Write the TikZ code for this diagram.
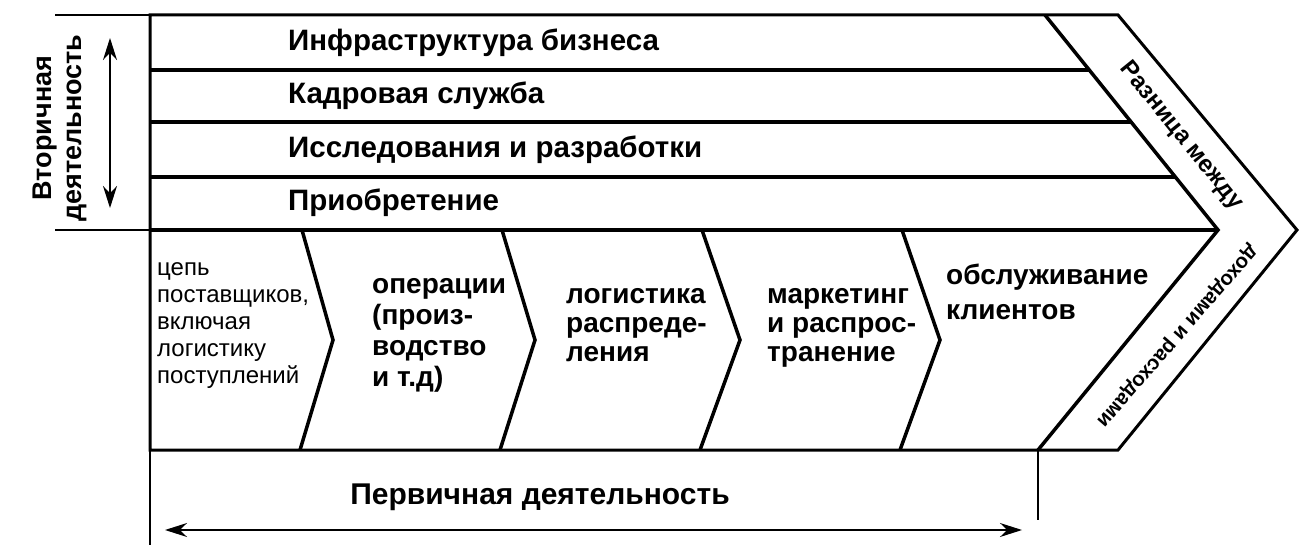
\documentclass[tikz,border=0pt]{standalone}
\usepackage{fontspec}
\setmainfont{Liberation Sans}
\usetikzlibrary{arrows.meta}
\begin{document}
\begin{tikzpicture}[x=1pt,y=-1pt,
  thk/.style={line width=3.5pt,line join=miter},
  thn/.style={line width=1.2pt},
  sec/.style={anchor=west,font=\fontsize{29.5}{32}\selectfont\bfseries,inner sep=0},
  pri/.style={anchor=north west,align=left,inner sep=0},
  arr/.style={line width=1.5pt,{Stealth[length=22pt,width=14pt]}-{Stealth[length=22pt,width=14pt]}}]
\useasboundingbox (0,0) rectangle (1301,545);
% coordinates
\coordinate (tl) at (150,15);
\coordinate (bl) at (150,450);
\coordinate (ot) at (1118,15);
\coordinate (otip) at (1297,230);
\coordinate (ob) at (1118,450);
\coordinate (it) at (1045,15);
\coordinate (itip) at (1218,230);
\coordinate (ib) at (1038,450);
% outer frame
\draw[thk] (it) -- (itip) -- (ib);
\draw[line width=3pt,line join=miter] (tl) -- (ot) -- (otip) -- (ob) -- (bl) -- cycle;
\draw[thk] (150,70) -- (1089,70);
\draw[thk] (150,122) -- (1131,122);
\draw[thk] (150,177) -- (1175,177);
\draw[thk] (150,230) -- (itip);
% primary dividers
\foreach \x/\y in {300/333,500/535,700/740,900/940}
  \draw[thk] (\x+2,230) -- (\y,340) -- (\x,450);
% thin guides
\draw[thn] (55,15) -- (tl);
\draw[thn] (55,230) -- (150,230);
\draw[thn] (bl) -- (150,545);
\draw[thn] (ib) -- (1038,520);
% arrows
\coordinate (va) at (110,38); \coordinate (vb) at (110,208);
\draw[arr] (va) -- (vb);
\coordinate (ha) at (165,530); \coordinate (hb) at (1022,530);
\draw[arr] (ha) -- (hb);
% labels
\node[rotate=90,align=center,font=\fontsize{27}{30}\selectfont\bfseries] (vl) at (60,128) {Вторичная\\деятельность};
\node[font=\fontsize{30}{32}\selectfont\bfseries] (hl) at (540,497) {Первичная деятельность};
\node[sec] (s1) at (288,43) {Инфраструктура бизнеса};
\node[sec] (s2) at (288,96) {Кадровая служба};
\node[sec] (s3) at (288,150) {Исследования и разработки};
\node[sec] (s4) at (288,203) {Приобретение};
\node[pri,font=\fontsize{24}{27}\selectfont] (p1) at (157,262) {цепь\\поставщиков,\\включая\\логистику\\поступлений};
\node[pri,font=\fontsize{28}{31}\selectfont\bfseries] (p2) at (372,278) {операции\\(произ-\\водство\\и т.д)};
\node[pri,font=\fontsize{28}{29}\selectfont\bfseries] (p3) at (566,288) {логистика\\распреде-\\ления};
\node[pri,font=\fontsize{28}{29}\selectfont\bfseries] (p4) at (767,288) {маркетинг\\и распрос-\\транение};
\node[pri,font=\fontsize{28}{35}\selectfont\bfseries] (p5) at (946,264) {обслуживание\\клиентов};
\node[rotate=-51,font=\fontsize{24}{30}\selectfont\bfseries] (r1) at (1181,136) {Разница между};
\node[rotate=-131,font=\fontsize{20.5}{28}\selectfont\bfseries] (r2) at (1176,335) {доходами и расходами};
\end{tikzpicture}
\end{document}
